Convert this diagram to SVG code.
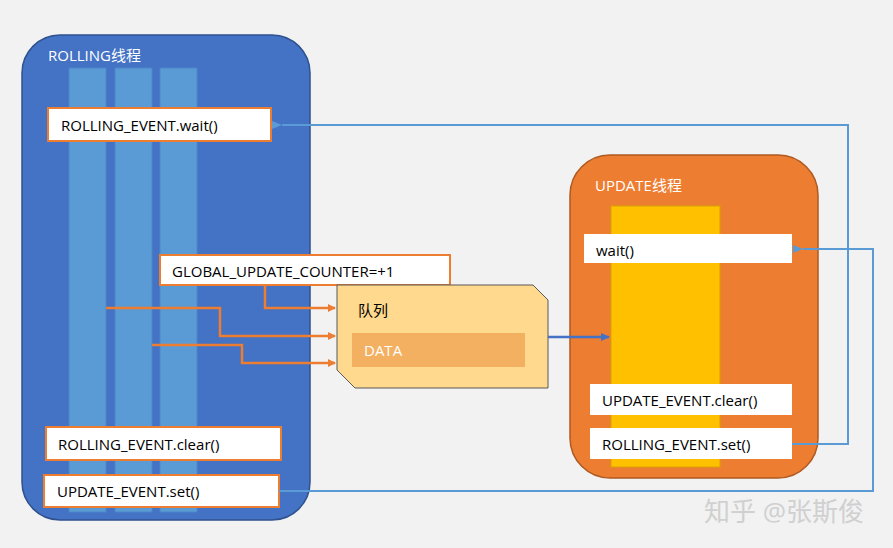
<svg xmlns="http://www.w3.org/2000/svg" width="893" height="548" viewBox="0 0 893 548">
<style>
text{font-family:"Open Sans","Noto Sans CJK SC",sans-serif;font-size:15px;fill:#000}
.w{fill:#fff}
.box{fill:#fff;stroke:#ED7D31;stroke-width:2}
.wb{fill:#fff}
.bar{fill:#5B9BD5;stroke:#4A88C8;stroke-width:1}
.ol{fill:none;stroke:#ED7D31;stroke-width:2.5}
.bl{fill:none;stroke:#5B9BD5;stroke-width:2}
</style>
<defs>
<marker id="ao" markerWidth="8" markerHeight="8" refX="7" refY="4" orient="auto" markerUnits="userSpaceOnUse"><path d="M0,0L8,4L0,8z" fill="#ED7D31"/></marker>
<marker id="ab" markerWidth="10" markerHeight="8" refX="0" refY="4" orient="auto" markerUnits="userSpaceOnUse"><path d="M10,0L0,4L10,8z" fill="#5B9BD5"/></marker>
<marker id="ad" markerWidth="9" markerHeight="8" refX="8" refY="4" orient="auto" markerUnits="userSpaceOnUse"><path d="M0,0L9,4L0,8z" fill="#4472C4"/></marker>
</defs>
<rect width="893" height="548" fill="#F2F2F2"/>
<g id="rolling">
<rect x="22" y="35" width="288" height="485" rx="38" fill="#4472C4" stroke="#2F528F" stroke-width="1.5"/>
<text x="48" y="61" class="w">ROLLING线程</text>
<rect class="bar" x="69" y="68" width="37" height="444"/>
<rect class="bar" x="115" y="68" width="37" height="444"/>
<rect class="bar" x="160" y="68" width="37" height="444"/>
</g>
<g id="rwait"><rect class="box" x="48" y="108" width="223" height="33"/><text x="61" y="131">ROLLING_EVENT.wait()</text></g>
<g id="rclear"><rect class="box" x="46" y="427" width="235" height="33"/><text x="58" y="450">ROLLING_EVENT.clear()</text></g>
<g id="uset"><rect class="box" x="44" y="475" width="235" height="32"/><text x="57" y="497">UPDATE_EVENT.set()</text></g>
<g id="global"><rect class="box" x="160" y="255" width="290" height="30"/><text x="172" y="277">GLOBAL_UPDATE_COUNTER=+1</text></g>
<g id="queue">
<path d="M337,285H533L548,300V388H355L337,370Z" fill="#FFD98E" stroke="#595959" stroke-width="1"/>
<text x="358" y="316">队列</text>
<rect x="352" y="333" width="173" height="34" fill="#F4B061"/>
<text x="364" y="356" class="w">DATA</text>
</g>
<g id="update">
<rect x="570" y="155" width="248" height="323" rx="40" fill="#ED7D31" stroke="#AE5A21" stroke-width="1.5"/>
<text x="595" y="191" class="w">UPDATE线程</text>
<rect x="611" y="206" width="109" height="261" fill="#FFC000" stroke="#D9A300" stroke-width="1"/>
</g>
<g id="uwait"><rect class="wb" x="584" y="234" width="208" height="29"/><text x="596" y="256">wait()</text></g>
<g id="uclear"><rect class="wb" x="590" y="384" width="202" height="31"/><text x="602" y="406">UPDATE_EVENT.clear()</text></g>
<g id="rset"><rect class="wb" x="590" y="428" width="202" height="31"/><text x="602" y="450">ROLLING_EVENT.set()</text></g>
<g id="connectors">
<path class="ol" d="M265,285V308H335" marker-end="url(#ao)"/>
<path class="ol" d="M106,308H220V336H335" marker-end="url(#ao)"/>
<path class="ol" d="M152,345H242V363H335" marker-end="url(#ao)"/>
<path d="M548,337H609" stroke="#4472C4" stroke-width="2.5" fill="none" marker-end="url(#ad)"/>
<path class="bl" d="M792,444H848V125H282" marker-end="url(#ab)"/>
<path class="bl" d="M279,491H873V249H803" marker-end="url(#ab)"/>
</g>
<text x="704" y="521" style="font-size:26px;fill:#D0D0D0">知乎 @张斯俊</text>
</svg>
